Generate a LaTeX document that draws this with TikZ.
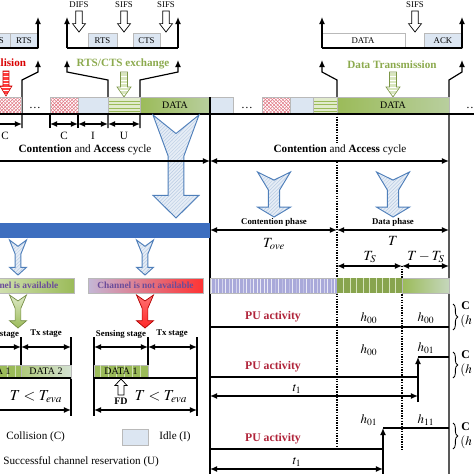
\documentclass[tikz,border=0pt]{standalone}
\usepackage{mathptmx}
\usepackage[no-math]{fontspec}
\setmainfont{Liberation Serif}
\usepackage{tikz}
\usetikzlibrary{arrows.meta,patterns,decorations.pathreplacing}
\usepackage{xcolor}

\definecolor{idleblue}{HTML}{DCE6F2}
\definecolor{datagreen}{HTML}{9BBB59}
\definecolor{lightgreen}{HTML}{C9DBA4}
\definecolor{barblue}{HTML}{3D6EBF}
\definecolor{arrowblue}{HTML}{4F7FBA}
\definecolor{hatchred}{HTML}{E0707E}
\definecolor{txtgreen}{HTML}{8CAA4E}
\definecolor{purpletxt}{HTML}{6B4C9A}
\definecolor{pured}{HTML}{B0243A}
\definecolor{stripepurple}{HTML}{A9A9DA}

% Y-shaped block arrow: style, x, y (top), width, height
\newcommand{\yarr}[5]{%
  \path[#1, shift={(#2,#3)}, xscale=#4, yscale=#5]
    (-0.5,0) -- (0,0.18) -- (0.5,0) -- (0.17,0.4) -- (0.17,0.78) -- (0.5,0.78)
    -- (0,1) -- (-0.5,0.78) -- (-0.17,0.78) -- (-0.17,0.4) -- cycle;}
% hollow block arrow: style, x, y (tail), width, height
\newcommand{\harr}[5]{%
  \path[#1, shift={(#2,#3)}, xscale=#4, yscale=#5]
    (-0.25,0) -- (0.25,0) -- (0.25,0.6) -- (0.5,0.6) -- (0,1)
    -- (-0.5,0.6) -- (-0.25,0.6) -- cycle;}

\begin{document}
\begin{tikzpicture}[
    x=0.03cm, y=-0.03cm,
    line width=1pt,
    >={Latex[length=6pt,width=5pt]},
    blk/.style = {draw=gray!55, line width=0.4pt},
    idle/.style = {blk, fill=idleblue},
    coll/.style = {blk, preaction={fill=white},
      preaction={pattern=north west lines, pattern color=hatchred},
      pattern=north east lines, pattern color=hatchred},
    resv/.style = {blk, preaction={fill=lightgreen!55},
      pattern=horizontal lines, pattern color=datagreen},
    data/.style = {blk, left color=datagreen, right color=datagreen!55!idleblue},
    dim/.style = {<->},
    bluey/.style = {draw=arrowblue, line width=0.8pt, preaction={fill=idleblue!70},
      pattern=north east lines, pattern color=arrowblue!40},
    greeny/.style = {draw=datagreen!75!black, line width=0.6pt,
      top color=lightgreen!60, bottom color=datagreen},
    redy/.style = {draw=red!70!black, line width=0.6pt,
      top color=red!55, bottom color=red!85},
    hol/.style = {draw=black, line width=0.6pt, fill=white},
    lab/.style = {font=\fontsize{7.5}{9}\selectfont},
    capt/.style = {font=\fontsize{9.5}{11}\selectfont},
    grn/.style = {font=\fontsize{9.5}{11}\selectfont\bfseries, text=txtgreen},
    stg/.style = {font=\fontsize{7.5}{9}\selectfont\bfseries},
    dtxt/.style = {font=\fontsize{8.5}{10}\selectfont},
    mth/.style = {font=\fontsize{11}{12}\selectfont},
    pu/.style = {font=\fontsize{10}{12}\selectfont\bfseries, text=pured},
    chan/.style = {font=\fontsize{8}{10}\selectfont\bfseries, text=purpletxt}
  ]
  \useasboundingbox (0,0) rectangle (474,474);
  \clip (0,0) rectangle (474,474);

  % top: collision frames
  \path[idle] (-18,33) rectangle (10,48);
  \path[idle] (10,33) rectangle (38,48);
  \node[lab] (rts0) at (-4,40.5) {RTS};
  \node[lab] (rts1) at (24,40.5) {RTS};
  \draw (-5,48) -- (38,48);
  \draw[->] (38,48) -- (38,17);
  \draw[->] (22,128) -- (22,80) -- (38,72) -- (38,60);
  \node[font=\fontsize{9.5}{11}\selectfont\bfseries, text=red!85!black] (coll) at (5,63) {Collision};
  \harr{draw=red!80!black, line width=0.5pt, preaction={fill=red!75}, pattern=horizontal lines, pattern color=white}{6}{71}{12}{25}

  % top: RTS/CTS exchange
  \node[lab] (difs) at (79,5) {DIFS};
  \node[lab] (sifs1) at (124,5) {SIFS};
  \node[lab] (sifs2) at (166,5) {SIFS};
  \harr{hol}{79}{11}{13}{21}
  \harr{hol}{124}{11}{13}{21}
  \harr{hol}{166}{11}{13}{21}
  \path[idle] (88,33) rectangle (117,48);
  \path[idle] (133,33) rectangle (160,48);
  \node[lab] (rts) at (102.5,40.5) {RTS};
  \node[lab] (cts) at (146.5,40.5) {CTS};
  \draw[->] (67,48) -- (67,17);
  \draw (67,48) -- (178,48);
  \draw[->] (178,48) -- (178,17);
  \draw[->] (108,128) -- (108,80) -- (67,72) -- (67,60);
  \draw[->] (140,128) -- (140,80) -- (178,72) -- (178,60);
  \node[grn] (xchg) at (123,64) {RTS/CTS exchange};
  \harr{draw=datagreen!80!black, line width=0.5pt, preaction={fill=lightgreen!70}, pattern=horizontal lines, pattern color=white}{124}{72}{14}{25}

  % top: data transmission
  \node[lab] (sifs3) at (415,5) {SIFS};
  \harr{hol}{415}{11}{13}{21}
  \path[blk, fill=white] (322,33) rectangle (405,48);
  \path[idle] (424,33) rectangle (462,48);
  \node[lab] (dat) at (363,40.5) {DATA};
  \node[lab] (ack) at (443,40.5) {ACK};
  \draw[->] (322,48) -- (322,17);
  \draw (322,48) -- (462,48);
  \draw[->] (462,48) -- (462,17);
  \draw[->] (337,114) -- (337,80) -- (322,72) -- (322,60);
  \draw[->] (449,474) -- (449,80) -- (462,72) -- (462,60);
  \node[grn] (dtx) at (392,65) {Data Transmission};
  \harr{draw=datagreen!80!black, line width=0.5pt, preaction={fill=lightgreen!70}, pattern=horizontal lines, pattern color=white}{393}{72}{14}{25}

  % time line
  \path[coll] (-5,97) rectangle (21,114);
  \node (dots1) at (35,108) {\dots};
  \path[coll] (50,97) rectangle (78,114);
  \path[idle] (78,97) rectangle (108,114);
  \path[resv] (108,97) rectangle (140,114);
  \path[data] (140,97) rectangle (210,114);
  \node[dtxt] (data1) at (175,105.5) {DATA};
  \path[idle] (210,97) rectangle (233,114);
  \node (dots2) at (247,108) {\dots};
  \path[coll] (262,97) rectangle (290,114);
  \path[idle] (290,97) rectangle (313,114);
  \path[resv] (313,97) rectangle (337,114);
  \path[data] (337,97) rectangle (449,114);
  \node[dtxt] (data2) at (393,105.5) {DATA};
  \node (dots3) at (472,108) {\dots};
  \draw (0,114) -- (474,114);
  \draw (210,97) -- (210,474);

  \draw (50,114) -- (50,128);
  \draw (78,114) -- (78,128);
  \draw[dim] (-30,124) -- (22,124);
  \draw[dim] (50,124) -- (78,124);
  \draw[dim] (78,124) -- (108,124);
  \draw[dim] (108,124) -- (140,124);
  \node[capt] (c0) at (5,135.5) {C};
  \node[capt] (c1) at (64,135.5) {C};
  \node[capt] (i1) at (93,135.5) {I};
  \node[capt] (u1) at (124,135.5) {U};

  \yarr{bluey}{176}{115}{46}{103}
  \node[capt] (cyc1) at (85,150) {\textbf{Contention} and \textbf{Access} cycle};
  \node[capt] (cyc2) at (340,150) {\textbf{Contention} and \textbf{Access} cycle};
  \draw[dim] (-40,161) -- (210,161);
  \draw[dim] (210,161) -- (449,161);
  \draw[densely dotted, line width=1.2pt] (337,114) -- (337,143);
  \draw[densely dotted, line width=1.2pt] (337,162) -- (337,450);

  % phases
  \fill[barblue] (-40,223) rectangle (210,238);
  \yarr{bluey}{274}{172}{33}{45}
  \yarr{bluey}{393}{172}{33}{45}
  \node[stg] (cph) at (274,222.5) {Contention phase};
  \node[stg] (dph) at (393,222.5) {Data phase};
  \draw[dim] (210,230) -- (337,230);
  \draw[dim] (337,230) -- (449,230);
  \node[mth, font=\fontsize{12}{13}\selectfont] (tove) at (274,244) {$T_{ove}$};
  \node[mth, font=\fontsize{12}{13}\selectfont] (tdat) at (393,241) {$T$};
  \node[mth, font=\fontsize{12}{13}\selectfont] (ts) at (370,257) {$T_S$};
  \node[mth, font=\fontsize{12}{13}\selectfont] (tts) at (426,257) {$T-T_S$};
  \draw[dim] (337,266) -- (402,266);
  \draw[dim] (402,266) -- (449,266);
  \draw[densely dotted, line width=1.2pt] (402,266) -- (402,450);

  \path[blk, preaction={fill=stripepurple}, pattern=vertical lines,
    pattern color=white!75!stripepurple] (210,278) rectangle (337,293);
  \fill[datagreen!88!black] (337,278) rectangle (402,293);
  \foreach \x in {343.5,350,...,397}
    \draw[white!60!datagreen, line width=0.5pt] (\x,278) -- (\x,293);
  \path[blk, left color=datagreen, right color=datagreen!35!idleblue] (402,278) rectangle (449,293);

  % PU activity cases
  \node[pu] (pu1) at (273,317) {PU activity};
  \node[mth] (h1a) at (369,318) {$h_{00}$};
  \node[mth] (h1b) at (426,318) {$h_{00}$};
  \draw (210,327) -- (449,327);
  \draw[decorate, decoration={brace, amplitude=4pt}, line width=0.7pt] (453,304) -- (453,330);
  \node[capt, font=\fontsize{10}{12}\selectfont\bfseries, anchor=west] (k1) at (457,306) {C};
  \node[mth, anchor=west] (q1) at (456,321) {$(h$};

  \node[pu] (pu2) at (273,367) {PU activity};
  \node[mth] (h2a) at (369,350) {$h_{00}$};
  \node[mth] (h2b) at (426,348) {$h_{01}$};
  \draw (210,377) -- (418,377);
  \draw[->] (418,402) -- (418,357);
  \draw (418,357) -- (449,357);
  \node[mth] (t1a) at (297,389) {$t_1$};
  \draw[dim] (210,396) -- (418,396);
  \draw[decorate, decoration={brace, amplitude=4pt}, line width=0.7pt] (453,352) -- (453,378);
  \node[capt, font=\fontsize{10}{12}\selectfont\bfseries, anchor=west] (k2) at (457,355) {C};
  \node[mth, anchor=west] (q2) at (456,370) {$(h$};

  \node[pu] (pu3) at (273,439) {PU activity};
  \node[mth] (h3a) at (369,420) {$h_{01}$};
  \node[mth] (h3b) at (426,420) {$h_{11}$};
  \draw (210,449) -- (383,449);
  \draw[->] (383,480) -- (383,428);
  \draw (383,428) -- (449,428);
  \node[mth] (t1b) at (297,462) {$t_1$};
  \draw[dim] (210,469) -- (383,469);
  \draw[decorate, decoration={brace, amplitude=4pt}, line width=0.7pt] (453,423) -- (453,449);
  \node[capt, font=\fontsize{10}{12}\selectfont\bfseries, anchor=west] (k3) at (457,427) {C};
  \node[mth, anchor=west] (q3) at (456,442) {$(h$};

  % channel state
  \yarr{bluey}{18}{240}{17}{35}
  \yarr{bluey}{145}{240}{17}{35}
  \path[blk, left color=lightgreen!50, right color=datagreen] (-32,278) rectangle (74,293);
  \node[chan] (avail) at (18,285.5) {Channel is available};
  \path[blk, left color=purpletxt!40!white, right color=red!80] (88,278) rectangle (203,293);
  \node[chan] (navail) at (145.5,285.5) {Channel is not available};
  \yarr{greeny}{18}{295}{17}{33}
  \yarr{redy}{145}{295}{17}{33}

  % available: sensing and Tx
  \node[stg] (sen1) at (-6,334) {Sensing stage};
  \node[stg] (tx1) at (46,334) {Tx stage};
  \draw (21,337) -- (21,378);
  \draw (71,337) -- (71,416);
  \draw[dim] (-33,347) -- (21,347);
  \draw[dim] (21,347) -- (71,347);
  \path[blk, fill=datagreen] (-33,365) rectangle (21,378);
  \foreach \x in {-25,-17,...,16}
    \draw[white!55!datagreen, line width=0.5pt] (\x,365) -- (\x,378);
  \path[blk, left color=datagreen!80, right color=idleblue!60!lightgreen] (21,365) rectangle (71,378);
  \node[dtxt] (d1a) at (-6,371.5) {DATA 1};
  \node[dtxt] (d2a) at (46,371.5) {DATA 2};
  \draw (-33,378) -- (71,378);
  \node[mth, font=\fontsize{13}{14}\selectfont] (ta) at (36,397) {$T<T_{eva}$};
  \draw[dim] (-33,410) -- (71,410);

  % not available: sensing with FD
  \node[stg] (sen2) at (121,334) {Sensing stage};
  \node[stg] (tx2) at (172,334) {Tx stage};
  \draw (94,337) -- (94,416);
  \draw (148,337) -- (148,378);
  \draw (197,337) -- (197,416);
  \draw[dim] (94,347) -- (148,347);
  \draw[dim] (148,347) -- (197,347);
  \path[blk, fill=datagreen] (94,365) rectangle (148,378);
  \foreach \x in {100,108,...,145}
    \draw[white!55!datagreen, line width=0.5pt] (\x,365) -- (\x,378);
  \node[dtxt] (d1b) at (121,371.5) {DATA 1};
  \draw (94,378) -- (197,378);
  \harr{hol}{121}{395}{12}{-16}
  \node[stg, font=\fontsize{8.5}{10}\selectfont\bfseries] (fd) at (121,401) {FD};
  \node[mth, font=\fontsize{13}{14}\selectfont] (tb) at (161,397) {$T<T_{eva}$};
  \draw[dim] (94,410) -- (197,410);

  % legend
  \node[capt, anchor=west] (lc) at (2,437) {Collision (C)};
  \path[idle] (122,429) rectangle (148,445);
  \node[capt] (li) at (175,437) {Idle (I)};
  \node[capt, anchor=west] (lu) at (-1,462) {Successful channel reservation (U)};
\end{tikzpicture}
\end{document}
